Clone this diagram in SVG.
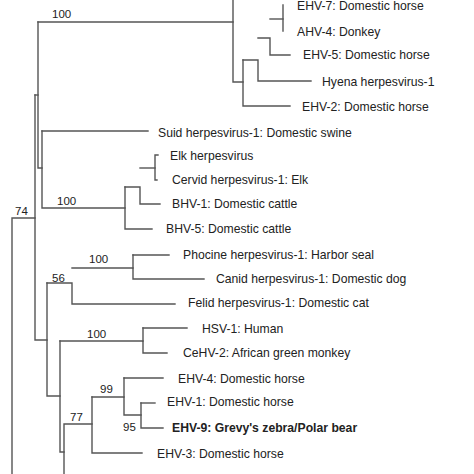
<svg xmlns="http://www.w3.org/2000/svg" width="474" height="474" viewBox="0 0 474 474">
<style>
  .br { fill: none; stroke: #555; stroke-width: 1.4; stroke-linecap: square; }
  .lf { font-family: "Liberation Sans", Arial, Helvetica, sans-serif; font-size: 12.2px; fill: #222; }
  .b { font-weight: bold; }
  .sp { font-family: "Liberation Sans", Arial, Helvetica, sans-serif; font-size: 11.5px; fill: #222; }
</style>
<rect width="474" height="474" fill="#fff"/>
<g id="connectors" class="br">
  <path d="M12,480 V218 H35"/>
  <path d="M35,95 V340 H47"/>
  <path d="M35,95 H38"/>
  <path d="M38,22 V168 H42"/>
  <path d="M38,22 H233"/>
  <path d="M233,-40 V82 H243"/>
  <path d="M243,60 V106 H290"/>
  <path d="M243,60 H258 V81 H311"/>
  <path d="M258,38 H270 V55 H290"/>
  <path d="M270,19 H283"/>
  <path d="M283,5 V31"/>
  <path d="M42,131 V208 H125"/>
  <path d="M42,131 H148"/>
  <path d="M125,187 V229 H152"/>
  <path d="M125,187 H140 V204 H160"/>
  <path d="M140,168 H155"/>
  <path d="M158,155 H155 V180 H157"/>
  <path d="M47,283 V396 H60"/>
  <path d="M47,283 H72 V304 H175"/>
  <path d="M72,268 H133 V279 H204"/>
  <path d="M133,255 V268"/>
  <path d="M133,255 H169"/>
  <path d="M60,341 V452 H64"/>
  <path d="M60,341 H143 V353 H167"/>
  <path d="M143,328 V341"/>
  <path d="M143,328 H187"/>
  <path d="M64,490 V424 H92"/>
  <path d="M92,397 V453 H142"/>
  <path d="M92,397 H124 V415 H141"/>
  <path d="M124,378 V397"/>
  <path d="M124,378 H163"/>
  <path d="M141,403 V428 H163"/>
  <path d="M141,403 H155"/>
</g>
<g id="support">
  <text class="sp" x="52" y="17.5">100</text>
  <text class="sp" x="57" y="205">100</text>
  <text class="sp" x="15" y="214.5">74</text>
  <text class="sp" x="89" y="263">100</text>
  <text class="sp" x="52" y="282">56</text>
  <text class="sp" x="87" y="337.5">100</text>
  <text class="sp" x="100" y="393">99</text>
  <text class="sp" x="70" y="421">77</text>
  <text class="sp" x="123" y="430.5">95</text>
</g>
<g id="ehv7"><text class="lf" x="297" y="9.5">EHV-7: Domestic horse</text></g>
<g id="ahv4"><text class="lf" x="297" y="35.5">AHV-4: Donkey</text></g>
<g id="ehv5"><text class="lf" x="303" y="59">EHV-5: Domestic horse</text></g>
<g id="hyena"><text class="lf" x="322" y="85.5">Hyena herpesvirus-1</text></g>
<g id="ehv2"><text class="lf" x="302" y="111">EHV-2: Domestic horse</text></g>
<g id="suid"><text class="lf" x="158" y="136.5">Suid herpesvirus-1: Domestic swine</text></g>
<g id="elk"><text class="lf" x="170" y="159.5">Elk herpesvirus</text></g>
<g id="cervid"><text class="lf" x="172" y="183.5">Cervid herpesvirus-1: Elk</text></g>
<g id="bhv1"><text class="lf" x="172" y="207.5">BHV-1: Domestic cattle</text></g>
<g id="bhv5"><text class="lf" x="166" y="233">BHV-5: Domestic cattle</text></g>
<g id="phocine"><text class="lf" x="183" y="258.5">Phocine herpesvirus-1: Harbor seal</text></g>
<g id="canid"><text class="lf" x="216" y="282.5">Canid herpesvirus-1: Domestic dog</text></g>
<g id="felid"><text class="lf" x="188" y="306.5">Felid herpesvirus-1: Domestic cat</text></g>
<g id="hsv1"><text class="lf" x="202" y="332.5">HSV-1: Human</text></g>
<g id="cehv2"><text class="lf" x="183" y="356.5">CeHV-2: African green monkey</text></g>
<g id="ehv4"><text class="lf" x="178" y="382.5">EHV-4: Domestic horse</text></g>
<g id="ehv1"><text class="lf" x="167" y="405.5">EHV-1: Domestic horse</text></g>
<g id="ehv9"><text class="lf b" x="172" y="432">EHV-9: Grevy's zebra/Polar bear</text></g>
<g id="ehv3"><text class="lf" x="157" y="457.5">EHV-3: Domestic horse</text></g>
</svg>
